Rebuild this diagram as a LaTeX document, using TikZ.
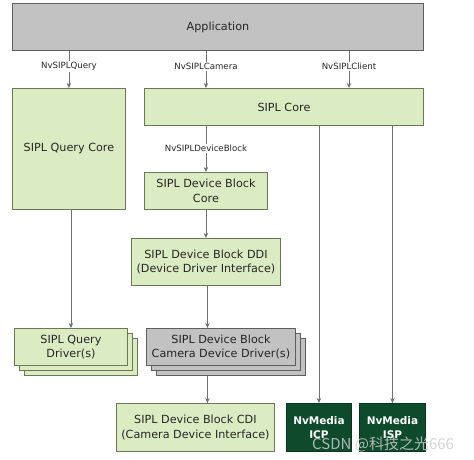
\documentclass[tikz,border=0pt]{standalone}
\usepackage{fontspec}
\setmainfont{DejaVu Sans}
\newfontfamily\cjkfont{Noto Sans CJK SC}
\usetikzlibrary{arrows.meta,calc}
\definecolor{lgreen}{HTML}{DCECC2}
\definecolor{bgreen}{HTML}{6A7858}
\definecolor{dgreen}{HTML}{0E4B2D}
\definecolor{gbox}{HTML}{C2C2C2}
\definecolor{gline}{HTML}{5E5E5E}
\definecolor{arrc}{HTML}{707070}
\tikzset{
  box/.style={draw=bgreen, fill=lgreen, line width=0.9pt, anchor=north west, align=center, inner sep=0pt, font=\fontsize{11.2}{14.5}\selectfont, text=black!85},
  gbx/.style={box, draw=gline, fill=gbox},
  dbx/.style={box, draw=dgreen!70!black, fill=dgreen, text=white, font=\bfseries\fontsize{10.5}{14}\selectfont},
  arr/.style={draw=arrc, line width=0.8pt, -{Stealth[length=5pt,width=4.5pt]}},
  lab/.style={fill=white, inner sep=1pt, font=\fontsize{8.6}{10}\selectfont, text=black!85}
}
\begin{document}
\begin{tikzpicture}[x=1pt,y=-1pt]
\useasboundingbox (0,0) rectangle (474,460);
% Application
\node[gbx, minimum width=411, minimum height=47] (app) at (12,3) {Application};
% top row
\node[box, minimum width=113, minimum height=121] (qc) at (12,88) {SIPL Query Core};
\node[box, minimum width=279, minimum height=37] (core) at (144,88) {SIPL Core};
\coordinate (cl) at (349,88);
% device block core
\node[box, minimum width=123, minimum height=37] (dbc) at (144,172) {SIPL Device Block\\Core};
\node[box, minimum width=149, minimum height=47] (ddi) at (131,238) {SIPL Device Block DDI\\(Device Driver Interface)};
% query drivers stack
\node[box, minimum width=113, minimum height=37] (qd3) at (24,338) {};
\node[box, minimum width=113, minimum height=37] (qd2) at (19,333) {};
\node[box, minimum width=113, minimum height=37] (qd) at (14,328) {SIPL Query\\Driver(s)};
% camera drivers stack
\node[gbx, minimum width=149, minimum height=37] (cam3) at (156,338) {};
\node[gbx, minimum width=149, minimum height=37] (cam2) at (151,333) {};
\node[gbx, minimum width=149, minimum height=37] (cam) at (146,328) {SIPL Device Block\\Camera Device Driver(s)};
% bottom row
\node[box, minimum width=158, minimum height=48] (cdi) at (116,403) {SIPL Device Block CDI\\(Camera Device Interface)};
\node[dbx, minimum width=65, minimum height=48] (icp) at (286,403) {NvMedia\\ICP};
\node[dbx, minimum width=66, minimum height=48] (isp) at (359,403) {NvMedia\\ISP};
% connectors
\draw[arr] (app.south -| qc.north) -- node[lab, pos=0.42]{NvSIPLQuery} (qc.north);
\draw[arr] (app.south -| dbc.north) -- node[lab, pos=0.42]{NvSIPLCamera} (dbc.north |- core.north);
\draw[arr] (app.south -| cl) -- node[lab, pos=0.42]{NvSIPLClient} (cl);
\draw[arr] (core.south -| dbc.north) -- node[lab, pos=0.49]{NvSIPLDeviceBlock} (dbc.north);
\draw[arr] (dbc.south) -- (dbc.south |- ddi.north);
\draw[arr] (qc.south -| qd.north) -- (qd.north);
\draw[arr] ([xshift=1.5pt]ddi.south) -- ([xshift=1.5pt]ddi.south |- cam.north);
\draw[arr] ([xshift=1.5pt]ddi.south |- cam3.south) -- ([xshift=1.5pt]ddi.south |- cdi.north);
\draw[arr] (core.south -| icp.north) -- (icp.north);
\draw[arr] (core.south -| isp.north) -- (isp.north);
% watermark
\node[anchor=west, inner sep=0pt, text=gray!40, opacity=0.85, font=\cjkfont\fontsize{15}{17}\selectfont] (wm) at (312,444) {CSDN @科技之光666};
\end{tikzpicture}
\end{document}
